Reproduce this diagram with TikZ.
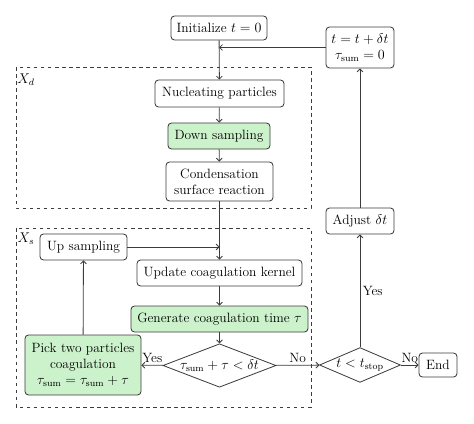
\documentclass[tikz,border=0pt]{standalone}
\usepackage{amsmath,amssymb}
\usepackage{tikz}
\usepackage{xcolor}
\usetikzlibrary{positioning,arrows.meta,shapes.geometric}

\definecolor{mint}{RGB}{204,242,204}
\definecolor{ink}{RGB}{60,60,60}
\tikzset{
    flowbox/.style={rectangle, rounded corners=3pt, draw=ink, line width=0.7pt, align=center, inner sep=1pt},
    greenbox/.style={flowbox, fill=mint},
    decide/.style={diamond, draw=ink, line width=0.7pt, inner sep=0pt},
    flow/.style={draw=ink, line width=0.7pt, -{Straight Barb[length=2.5pt,width=5pt]}},
    region/.style={draw=ink, dashed, line width=0.7pt},
    tag/.style={inner sep=2pt}
}

\begin{document}
\begin{tikzpicture}[x=0.03cm, y=-0.03cm, font=\fontsize{11.5}{13.5}\selectfont]
    \useasboundingbox (0,0) rectangle (474,424);
    % dashed regions
    \draw[region] (16,67) rectangle (311,208);
    \node at (26,80) {$X_d$};
    \draw[region] (16,228) rectangle (311,407);
    \node at (26,239) {$X_s$};

    \node[flowbox, minimum width=2.88cm, minimum height=0.72cm] (init) at (219,28) {Initialize $t = 0$};
    \node[flowbox, minimum width=2.04cm, minimum height=1.23cm] (advance) at (360,47.5) {$t = t + \delta t$\\$\tau_{\mathrm{sum}} = 0$};
    \node[flowbox, minimum width=3.87cm, minimum height=0.81cm] (nucleate) at (219.5,93.5) {Nucleating particles};
    \node[greenbox, minimum width=3.06cm, minimum height=0.78cm] (down) at (219,136) {Down sampling};
    \node[flowbox, minimum width=3.21cm, minimum height=1.17cm] (condense) at (219.5,181.5) {Condensation\\surface reaction};
    \node[flowbox, minimum width=2.61cm, minimum height=0.78cm] (up) at (83.5,247) {Up sampling};
    \node[flowbox, minimum width=4.95cm, minimum height=0.78cm] (kernel) at (219.5,273) {Update coagulation kernel};
    \node[greenbox, minimum width=5.31cm, minimum height=0.78cm] (gentime) at (219.5,319) {Generate coagulation time $\tau$};
    \node[decide, aspect=2.5, minimum width=3.39cm] (check) at (219.5,365.5) {$\tau_{\mathrm{sum}} + \tau < \delta t$};
    \node[greenbox, minimum width=3.48cm, minimum height=1.8cm] (pick) at (83,365) {Pick two particles\\coagulation\\$\tau_{\mathrm{sum}} = \tau_{\mathrm{sum}} + \tau$};
    \node[decide, aspect=2.13, minimum width=2.43cm] (stop) at (360,365) {$t < t_{\mathrm{stop}}$};
    \node[flowbox, minimum width=1.14cm, minimum height=0.72cm] (finish) at (438,365) {End};
    \node[flowbox, minimum width=2.04cm, minimum height=0.78cm] (adjust) at (360,221) {Adjust $\delta t$};

    % connectors
    \draw[flow] (init) -- (nucleate);
    \draw[flow] (advance.west) -- (advance.west -| init.south);
    \draw[flow] (nucleate) -- (down);
    \draw[flow] (down) -- (condense);
    \draw[flow] (condense) -- (kernel);
    \draw[flow] (up.east) -- (up.east -| kernel.north);
    \draw[flow] (kernel) -- (gentime);
    \draw[flow] (gentime) -- (check);
    \draw[flow] (check) -- node[tag, above] {Yes} (pick);
    \draw[flow] (pick) -- (up);
    \draw[flow] (check) -- node[tag, above] {No} (stop);
    \draw[flow] (stop) -- node[tag, above] {No} (finish);
    \draw[flow] (stop) -- node[tag, right] {Yes} (adjust);
    \draw[flow] (adjust) -- (advance);
\end{tikzpicture}
\end{document}
